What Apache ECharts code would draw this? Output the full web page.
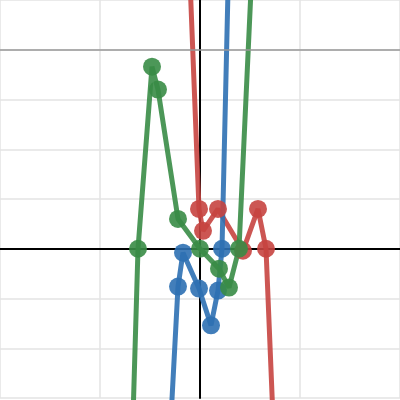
<!DOCTYPE html>
<html><head><meta charset="utf-8">
<script src="https://cdn.jsdelivr.net/npm/echarts@6/dist/echarts.min.js"></script>
<style>html,body{margin:0;padding:0;background:#fff}#c{width:400px;height:400px}</style>
</head><body><div id="c"></div>
<script>
const red = [[-0.10,5.4],[-0.01,0.8],[0.03,0.36],[0.18,0.8],[0.43,-0.04],[0.58,0.8],[0.66,0],[0.73,-3.4]];
const blue = [[-0.29,-3.4],[-0.22,-0.76],[-0.17,-0.08],[-0.01,-0.8],[0.11,-1.54],[0.18,-0.84],[0.22,0],[0.28,5.2]];
const green = [[-0.67,-3.4],[-0.62,0],[-0.48,3.66],[-0.42,3.2],[-0.22,0.6],[0,0],[0.19,-0.4],[0.29,-0.78],[0.39,0],[0.51,5.2]];
const refLine = 4;
function mk(d){return d.map((p,i)=>({value:p,symbolSize:(i===0||i===d.length-1)?0:18}));}
function s(name,d,c){return {name,type:'line',data:mk(d),symbol:'circle',clip:true,
 lineStyle:{color:c,width:5,opacity:0.9},itemStyle:{color:c,opacity:0.9},z:3};}
const chart = echarts.init(document.getElementById('c'));
chart.setOption({animation:false,
 grid:{left:0,right:0,top:-2,bottom:2},
 xAxis:{type:'value',min:-2,max:2,interval:1,axisLabel:{show:false},axisTick:{show:false},
  axisLine:{onZero:true,lineStyle:{color:'#000',width:2}},splitLine:{lineStyle:{color:'#e3e3e3',width:1.5}}},
 yAxis:{type:'value',min:-3,max:5,interval:1,axisLabel:{show:false},axisTick:{show:false},
  axisLine:{onZero:true,lineStyle:{color:'#000',width:2}},splitLine:{lineStyle:{color:'#e3e3e3',width:1.5}}},
 series:[
  {type:'line',data:[],markLine:{silent:true,symbol:'none',label:{show:false},lineStyle:{color:'#999',width:1.5,type:'solid'},data:[{yAxis:refLine}]}},
  s('red',red,'#c74440'),s('blue',blue,'#2d70b3'),s('green',green,'#388c46')]
});
</script></body></html>
